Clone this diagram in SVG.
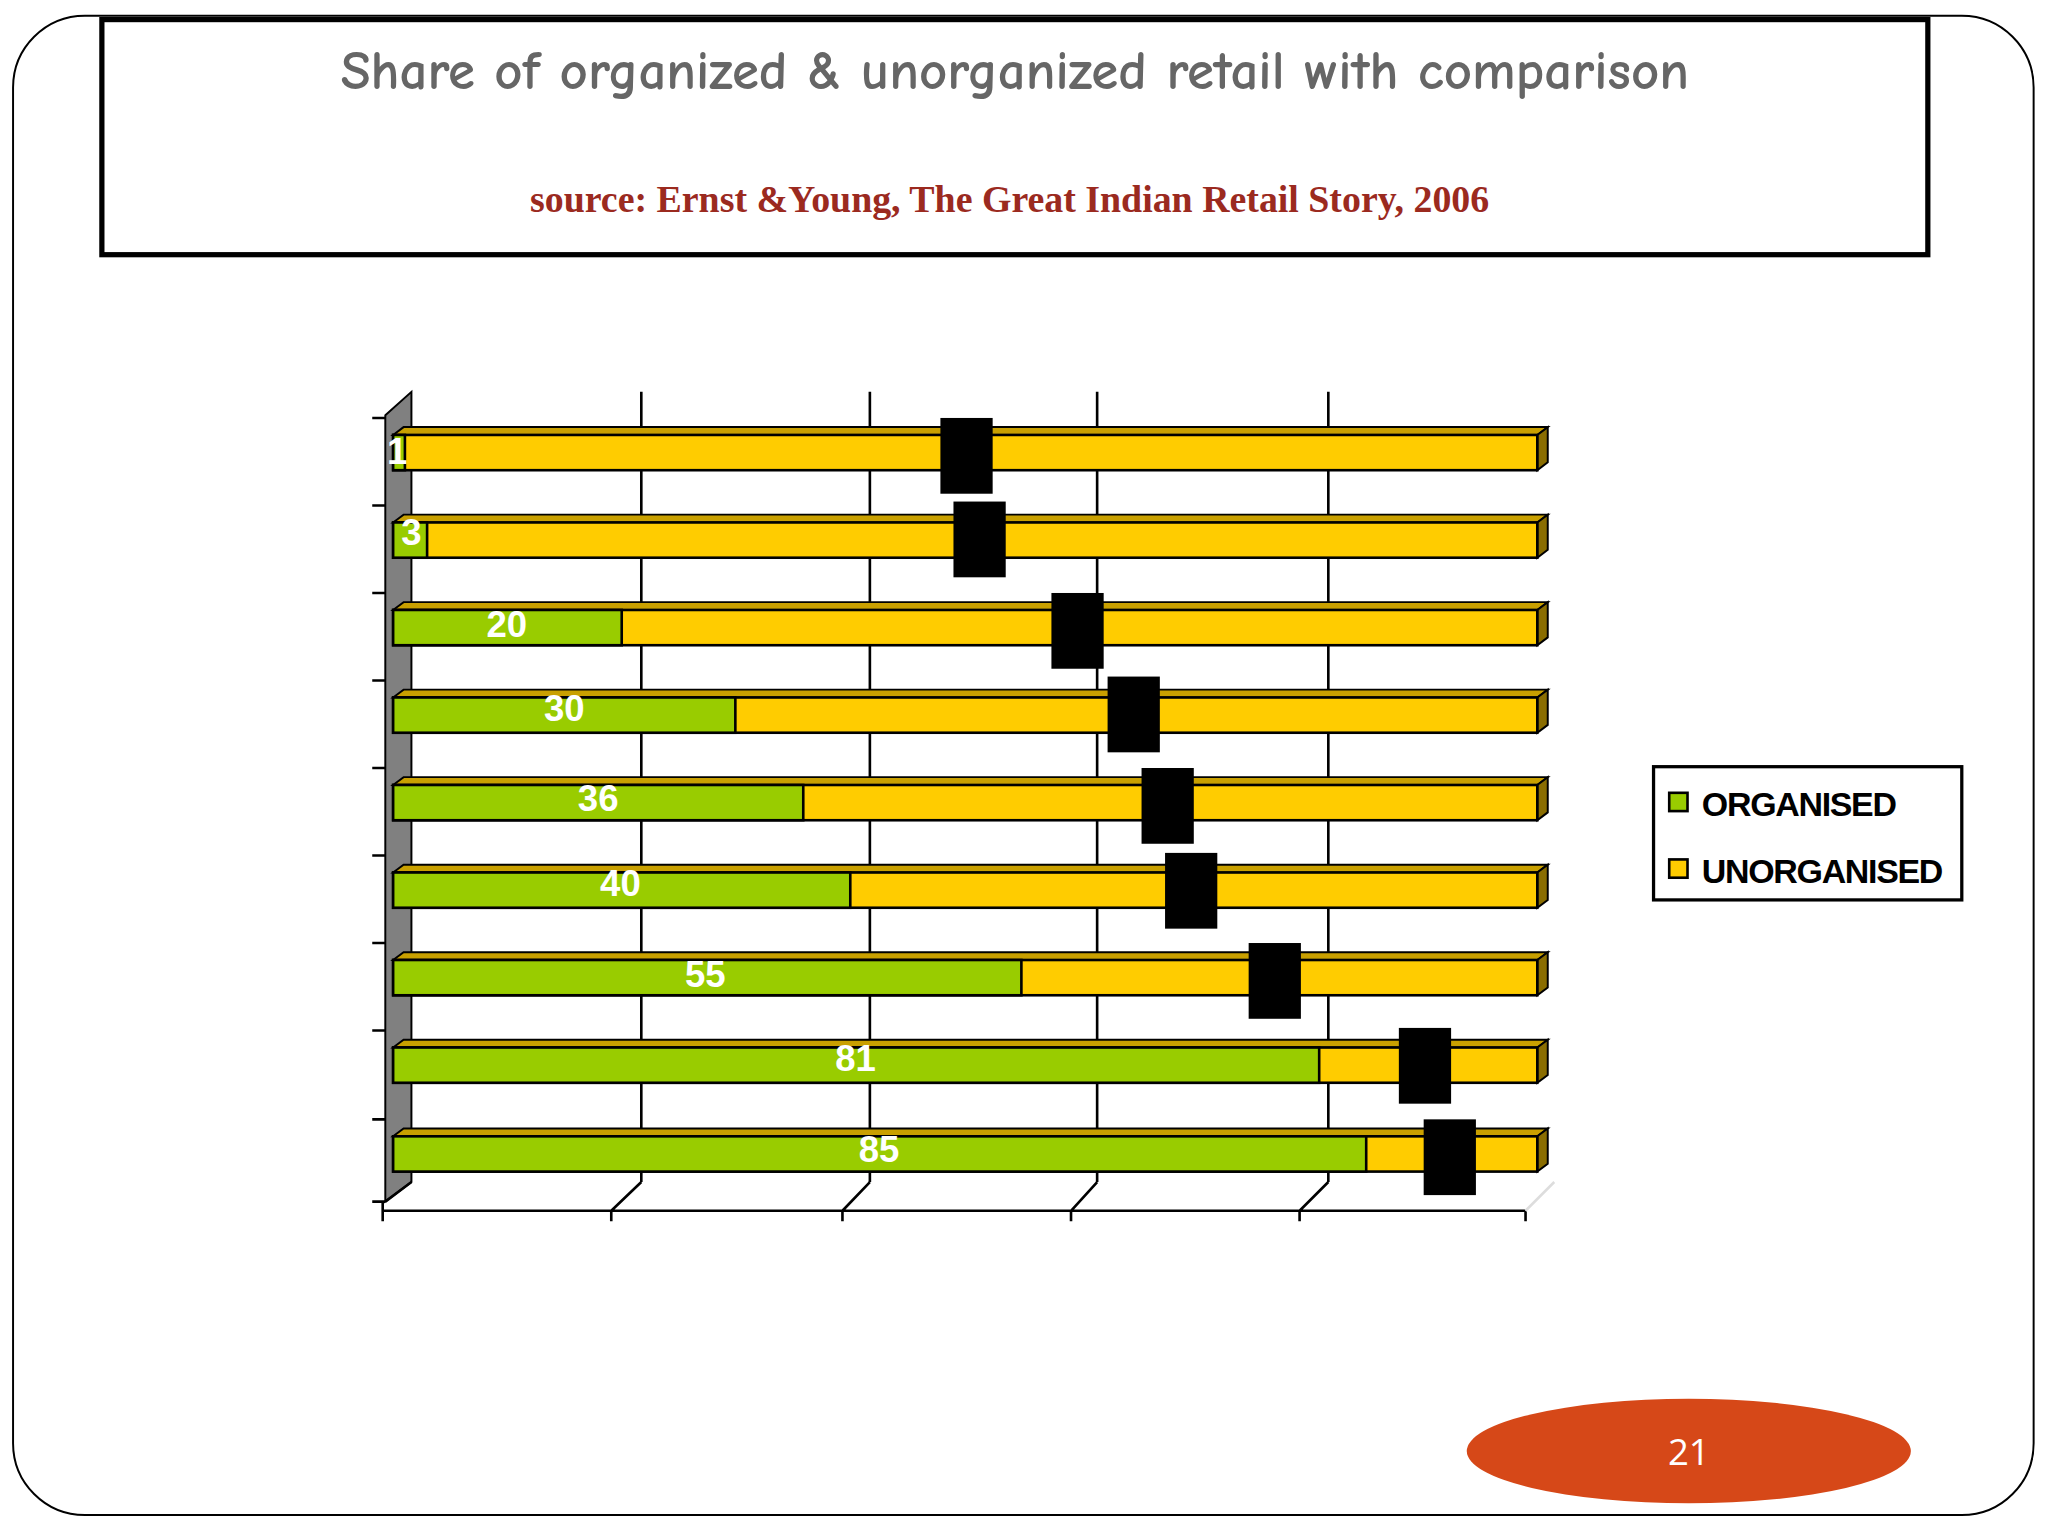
<svg xmlns="http://www.w3.org/2000/svg" width="2048" height="1536" viewBox="0 0 2048 1536">
<style>
.org{fill:#99cc00;stroke:#000;stroke-width:2}
.un{fill:#ffcc00;stroke:#000;stroke-width:2}
.top{fill:#c9a000;stroke:#000;stroke-width:1.5}
.side{fill:#8a6d00;stroke:#000;stroke-width:1.5}
.val{font-family:"Liberation Sans",Arial,sans-serif;font-weight:bold;font-size:28px;fill:#fff;text-anchor:middle}
.grid{stroke:#000;stroke-width:2;fill:none}
.leg{font-family:"Liberation Sans",Arial,sans-serif;font-weight:bold;font-size:26px;fill:#000;letter-spacing:-1px}
</style>
<rect width="2048" height="1536" fill="#fff"/>
<g transform="scale(1.30612)">
<rect x="10" y="12" width="1547" height="1148" rx="55" fill="#fff" stroke="#000" stroke-width="1.5"/>
<g id="title">
<rect x="78" y="15" width="1398" height="180" fill="#fff" stroke="#000" stroke-width="4"/>
<text x="777" y="68" text-anchor="middle" font-family="'Comic Neue','Liberation Sans',sans-serif" font-weight="bold" font-size="42" fill="#666">Share of organized &amp; unorganized retail with comparison</text>
<text x="773" y="162" text-anchor="middle" font-family="'Liberation Serif',serif" font-weight="bold" font-size="29" fill="#9b2a1f">source: Ernst &amp;Young, The Great Indian Retail Story, 2006</text>
</g>
<g id="axes">
<polygon points="295,318 315,300 315,905 295,920" fill="#808080" stroke="#000" stroke-width="1.5"/>
<path class="grid" d="M491 300V905M666 300V905M840 300V905M1017 300V905"/>
<path class="grid" d="M293 927H1168M293 920V935M468 927V935M645 927V935M820 927V935M995 927V935M1168 927V935M468 927L491 905M645 927L666 905M820 927L840 905M995 927L1017 905M295 920L315 905"/>
<path class="grid" d="M285 320H295M285 387H295M285 454H295M285 521H295M285 588H295M285 655H295M285 722H295M285 789H295M285 857H295M285 920H295"/>
<path d="M1168 927L1190 905" stroke="#ddd" stroke-width="2"/>
</g>
<defs>
<g id="bartop"><polygon class="top" points="301,0 309,-6 1185,-6 1177,0"/><polygon class="side" points="1177,0 1185,-6 1185,21 1177,27"/></g>
</defs>
<g id="bars">
<g id="b1"><use href="#bartop" y="333"/><rect class="un" x="301" y="333" width="876" height="27"/><rect class="org" x="301" y="333" width="9" height="27"/><text class="val" x="304" y="355">1</text><rect x="720" y="320" width="40" height="58"/></g>
<g id="b2"><use href="#bartop" y="400"/><rect class="un" x="301" y="400" width="876" height="27"/><rect class="org" x="301" y="400" width="26" height="27"/><text class="val" x="315" y="417">3</text><rect x="730" y="384" width="40" height="58"/></g>
<g id="b3"><use href="#bartop" y="467"/><rect class="un" x="301" y="467" width="876" height="27"/><rect class="org" x="301" y="467" width="175" height="27"/><text class="val" x="388" y="488">20</text><rect x="805" y="454" width="40" height="58"/></g>
<g id="b4"><use href="#bartop" y="534"/><rect class="un" x="301" y="534" width="876" height="27"/><rect class="org" x="301" y="534" width="262" height="27"/><text class="val" x="432" y="552">30</text><rect x="848" y="518" width="40" height="58"/></g>
<g id="b5"><use href="#bartop" y="601"/><rect class="un" x="301" y="601" width="876" height="27"/><rect class="org" x="301" y="601" width="314" height="27"/><text class="val" x="458" y="621">36</text><rect x="874" y="588" width="40" height="58"/></g>
<g id="b6"><use href="#bartop" y="668"/><rect class="un" x="301" y="668" width="876" height="27"/><rect class="org" x="301" y="668" width="350" height="27"/><text class="val" x="475" y="686">40</text><rect x="892" y="653" width="40" height="58"/></g>
<g id="b7"><use href="#bartop" y="735"/><rect class="un" x="301" y="735" width="876" height="27"/><rect class="org" x="301" y="735" width="481" height="27"/><text class="val" x="540" y="756">55</text><rect x="956" y="722" width="40" height="58"/></g>
<g id="b8"><use href="#bartop" y="802"/><rect class="un" x="301" y="802" width="876" height="27"/><rect class="org" x="301" y="802" width="709" height="27"/><text class="val" x="655" y="820">81</text><rect x="1071" y="787" width="40" height="58"/></g>
<g id="b9"><use href="#bartop" y="870"/><rect class="un" x="301" y="870" width="876" height="27"/><rect class="org" x="301" y="870" width="745" height="27"/><text class="val" x="673" y="890">85</text><rect x="1090" y="857" width="40" height="58"/></g>
</g>
<g id="legend">
<rect x="1266" y="587" width="236" height="102" fill="#fff" stroke="#000" stroke-width="2.5"/>
<rect class="org" x="1278" y="607" width="14" height="14"/>
<text class="leg" x="1303" y="625">ORGANISED</text>
<rect class="un" x="1278" y="658" width="14" height="14"/>
<text class="leg" x="1303" y="676">UNORGANISED</text>
</g>
<g id="page">
<ellipse cx="1293" cy="1111" rx="170" ry="40" fill="#d64818"/>
<text x="1293" y="1122" text-anchor="middle" font-family="'Open Sans','Liberation Sans',sans-serif" font-size="28" fill="#fff">21</text>
</g>
</g>
</svg>
